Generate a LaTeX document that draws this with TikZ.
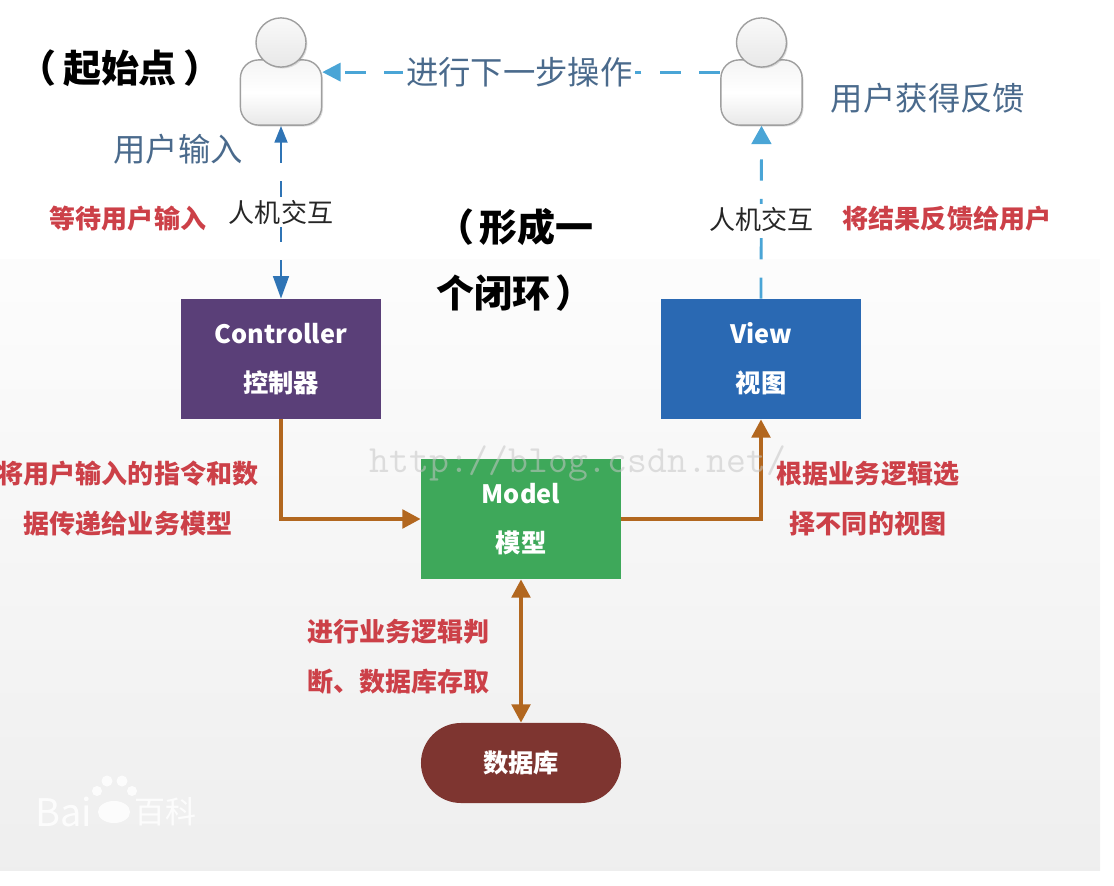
\documentclass[tikz,border=0pt]{standalone}
\usepackage{fontspec}
\setmainfont{Noto Sans CJK SC}
\usepackage{xcolor}
\usetikzlibrary{arrows.meta,shapes.geometric,shapes.misc,shadows}
\definecolor{ctrlpurple}{HTML}{5A3F78}
\definecolor{viewblue}{HTML}{2A69B3}
\definecolor{modelgreen}{HTML}{3EA85A}
\definecolor{dbbrown}{HTML}{7E3530}
\definecolor{flowbrown}{HTML}{B2671F}
\definecolor{lightflow}{HTML}{4AA5D6}
\definecolor{darkflow}{HTML}{2F74B5}
\definecolor{notered}{HTML}{CC4048}
\definecolor{slatetext}{HTML}{4A6A8C}

\begin{document}
\begin{tikzpicture}[
  x=0.025cm, y=-0.025cm,
  box/.style={rectangle, minimum width=5cm, minimum height=3cm, inner sep=0pt, align=center, text=white,
    font=\fontsize{18}{35}\selectfont\bfseries},
  pill/.style={rounded rectangle, minimum width=5cm, minimum height=2cm, inner sep=0pt, fill=dbbrown, text=white,
    font=\fontsize{18}{22}\selectfont\bfseries},
  userbody/.style={rectangle, rounded corners=13pt, minimum width=2.03cm, minimum height=1.63cm, inner sep=0pt,
    draw=gray!75, line width=1pt, top color=gray!8, bottom color=gray!18, middle color=white,
    drop shadow={shadow xshift=1pt, shadow yshift=-1pt, opacity=.25}},
  userhead/.style={ellipse, minimum width=1.25cm, minimum height=1.23cm, inner sep=0pt,
    draw=gray!75, line width=1pt, top color=gray!5, bottom color=gray!18,
    drop shadow={shadow xshift=1pt, shadow yshift=-1pt, opacity=.25}},
  note/.style={text=notered, align=center, font=\fontsize{18.5}{35.6}\selectfont\bfseries},
  slate/.style={text=slatetext, font=\fontsize{23}{28}\selectfont},
  hci/.style={fill=white, inner sep=2pt, text=black!85, font=\fontsize{18.5}{22}\selectfont},
  heavy/.style={text=black, align=center, font=\fontsize{27}{47}\selectfont\bfseries},
  flow/.style={-{Triangle[length=13pt,width=13pt]}, line width=3pt, flowbrown},
  dashflow/.style={line width=2pt, lightflow, dash pattern=on 15pt off 13pt},
  >=Stealth
]
  \useasboundingbox (0,0) rectangle (1114,886);

  % backdrop
  \shade[top color=gray!2, bottom color=gray!13] (0,260) rectangle (1100,870);

  % users (top)
  \node[userbody] (inbody) at (281,92.5) {};
  \node[userhead] (inhead) at (281,42.5) {};
  \node[userbody] (fbbody) at (761.5,92.5) {};
  \node[userhead] (fbhead) at (761.5,42.5) {};

  % MVC boxes
  \node[box, fill=ctrlpurple] (ctrl) at (281,359) {Controller\\控制器};
  \node[box, fill=viewblue] (view) at (761,359) {View\\视图};
  \node[box, fill=modelgreen] (model) at (521,519) {Model\\模型};
  \node[pill] (db) at (521,763) {数据库};

  % solid connections
  \draw[flow] (ctrl.south) |- (model.west);
  \draw[flow] (model.east) -| (view.south);
  \draw[flow, {Triangle[length=13pt,width=13pt]}-{Triangle[length=13pt,width=13pt]}] (model.south) -- (db.north);

  % dashed connections
  \draw[dashflow, darkflow, {Triangle[length=12pt,width=9pt]}-{Triangle[length=16pt,width=11pt]}]
    (inbody.south) -- node[hci, pos=.5] {人机交互} (ctrl.north);
  \draw[dashflow, -{Triangle[length=13pt,width=14pt]}]
    (view.north) -- node[hci, pos=.46] {人机交互} (fbbody.south);
  \draw[dashflow, -{Triangle[length=13pt,width=13pt]}]
    ([yshift=14.5pt]fbbody.west) -- node[fill=white, inner sep=2pt, slate, pos=.505] {进行下一步操作} ([yshift=14.5pt]inbody.east);

  % labels
  \node[heavy] (start) at (120,68) {（\hspace{5pt}起始点\hspace{5pt}）};
  \node[heavy] (loop) at (515,260) {（\hspace{3pt}形成一\\个闭环\hspace{3pt}）};
  \node[slate] (userin) at (178,149) {用户输入};
  \node[slate] (userfb) at (928,98) {用户获得反馈};
  \node[note] (waiting) at (128,219) {等待用户输入};
  \node[note] (feedback) at (947,219) {将结果反馈给用户};
  \node[note] (passing) at (128,499) {将用户输入的指令和数\\据传递给业务模型};
  \node[note] (judging) at (398.5,657) {进行业务逻辑判\\断、数据库存取};
  \node[note] (choosing) at (868,499) {根据业务逻辑选\\择不同的视图};

  % watermarks
  \node[text=gray!45, opacity=.55, font=\fontsize{27.4}{30}\ttfamily\selectfont] (csdn) at (578,464) {http://blog.csdn.net/};
  \node[text=white, opacity=.85, font=\fontsize{27}{30}\selectfont] (baidu) at (64,812) {Bai};
  \node[text=white, opacity=.85, font=\fontsize{22}{26}\selectfont] (baike) at (165,812) {百科};
  \foreach \x/\y/\r in {107/781/5.5, 122/781/5.5, 97/791/5, 132/791/5} {
    \fill[white, opacity=.85] (\x,\y) circle[radius=\r];
  }
  \fill[white, opacity=.85] (114,812) ellipse[x radius=16, y radius=11];
\end{tikzpicture}
\end{document}
